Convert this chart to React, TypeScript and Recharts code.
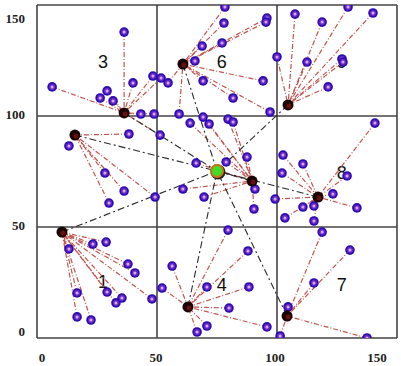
import { ScatterChart, Scatter, XAxis, YAxis, CartesianGrid } from "recharts";

type P = [number, number];

// base station (green) and the nine cluster heads, clusters 1..9
const baseStation: P = [75, 75.2];
const heads: P[] = [
  [10.4, 47.7], // 1
  [15.8, 91.4], // 2
  [36.3, 101.4], // 3
  [62.9, 14.0], // 4
  [89.6, 70.7], // 5
  [60.8, 123.4], // 6
  [104.2, 9.9], // 7
  [117.1, 63.5], // 8
  [104.6, 105.0], // 9
];

const cluster1: P[] = [
  [23.3, 42.3], [28.8, 43.2], [13.3, 40.1], [37.9, 33.3], [40.8, 29.3], [29.2, 20.7],
  [32.9, 15.8], [35.4, 18.0], [16.7, 20.3], [16.7, 9.5], [22.5, 8.1], [47.9, 17.6],
];
const cluster2: P[] = [
  [13.3, 86.5], [38.3, 91.9], [28.3, 74.3], [36.3, 66.2], [30.0, 60.8], [49.2, 63.5],
];
const cluster3: P[] = [
  [36.3, 137.8], [6.3, 113.1], [40.0, 114.9], [29.2, 111.3], [26.3, 108.1], [31.7, 106.8],
  [43.3, 100.9], [48.8, 100.9], [48.3, 118.0], [51.7, 117.1], [51.3, 91.4],
];
const cluster4: P[] = [
  [52.1, 22.5], [56.3, 32.4], [66.7, 2.7], [79.6, 48.6], [87.9, 39.2], [70.8, 23.0],
  [88.3, 23.0], [80.0, 13.5], [70.8, 5.4], [95.8, 5.0],
];
const cluster5: P[] = [
  [69.2, 99.5], [71.7, 96.4], [79.6, 98.6], [81.7, 97.3], [63.8, 96.8], [87.5, 81.5],
  [78.8, 79.3], [66.3, 78.8], [60.8, 67.1], [69.6, 63.5], [90.8, 67.1], [90.4, 58.1],
];
const cluster6: P[] = [
  [54.6, 114.9], [65.8, 124.8], [78.3, 149.1], [77.9, 141.9], [95.8, 144.1], [95.4, 142.3],
  [68.8, 131.5], [77.1, 132.9], [69.2, 115.8], [94.2, 115.8], [81.7, 108.1], [97.1, 101.8],
  [59.2, 100.9],
];
const cluster7: P[] = [
  [118.8, 47.7], [130.4, 39.6], [115.4, 24.8], [104.6, 14.0], [101.3, 0.9], [137.5, 0.0],
];
const cluster8: P[] = [
  [102.5, 82.4], [110.8, 78.4], [102.1, 74.3], [129.2, 73.0], [140.8, 96.8], [123.3, 64.9],
  [110.8, 59.0], [115.4, 59.5], [133.3, 58.6], [99.2, 62.6], [103.3, 54.1], [115.4, 52.7],
];
const cluster9: P[] = [
  [107.5, 145.9], [118.8, 142.3], [129.6, 149.1], [140.0, 146.4], [100.0, 126.6],
  [112.5, 124.3], [127.1, 125.7], [127.5, 124.3], [121.3, 113.1],
];

const clusters = [cluster1, cluster2, cluster3, cluster4, cluster5, cluster6, cluster7, cluster8, cluster9];

const cellNames = ["1", "3", "4", "6", "7", "8", "9"];
const cellSpots: P[] = [
  [27.5, 25.2], [27.5, 124.3], [77, 23.9], [77, 124.3], [127, 23.9], [127, 74.3], [127, 124.3],
];

const axisTicks = [0, 50, 100, 150];

const pt = (p: P) => ({ x: p[0], y: p[1] });

const memberLinks = clusters.flatMap((c, i) => c.map((p) => [pt(p), pt(heads[i])]));
const headLinks = heads.map((h) => [pt(h), pt(baseStation)]);

const noShape = () => <g />;

const Node = (props: any) => (
  <g>
    <circle cx={props.cx} cy={props.cy} r={4.8} fill="#2c0db5" />
    <circle cx={props.cx} cy={props.cy} r={3} fill="#6c2cc6" />
    <circle cx={props.cx} cy={props.cy} r={1.5} fill="#d6a6f0" />
  </g>
);

const Head = (props: any) => (
  <g>
    <circle cx={props.cx} cy={props.cy} r={5.5} fill="#1a0303" />
    <circle cx={props.cx + 1} cy={props.cy + 1} r={2.5} fill="#661010" />
  </g>
);

const Station = (props: any) => (
  <g>
    <circle cx={props.cx + 1} cy={props.cy + 1} r={7.5} fill="#222" />
    <circle cx={props.cx} cy={props.cy} r={7} fill="#c8741a" />
    <circle cx={props.cx} cy={props.cy} r={5} fill="#3fdc28" />
  </g>
);

const CellLabel = (props: any) => (
  <text
    x={props.cx}
    y={props.cy}
    textAnchor="middle"
    dominantBaseline="central"
    fontFamily="Liberation Sans, Arial, sans-serif"
    fontSize={18}
    fill="#111"
  >
    {props.payload.name}
  </text>
);

const xShift: Record<number, number> = { 0: 5, 50: -1, 100: -2, 150: -12 };
const yShift: Record<number, number> = { 0: -7, 50: -2, 100: -2, 150: 9 };

const XTick = (props: any) => (
  <text
    x={props.x + (xShift[props.payload.value] ?? 0)}
    y={props.y + 22}
    textAnchor="middle"
    fontFamily="Liberation Serif, Times New Roman, serif"
    fontWeight="bold"
    fontSize={13}
    fill="#222"
  >
    {props.payload.value}
  </text>
);

const YTick = (props: any) => (
  <text
    x={25}
    y={props.y + (yShift[props.payload.value] ?? 0)}
    dy="0.35em"
    textAnchor="end"
    fontFamily="Liberation Serif, Times New Roman, serif"
    fontWeight="bold"
    fontSize={13}
    fill="#222"
  >
    {props.payload.value}
  </text>
);

const App = () => {
  const cellData = cellSpots.map((p, i) => ({ x: p[0], y: p[1], name: cellNames[i] }));
  const nodeData = clusters.flat().map(pt);

  return (
    <div style={{ position: "absolute", left: 0, top: 0, background: "#fff" }}>
      <ScatterChart width={401} height={366} margin={{ top: 5, right: 4, bottom: 0, left: 0 }}>
        <CartesianGrid stroke="#454545" strokeWidth={1.6} />
        <XAxis
          type="number"
          dataKey="x"
          domain={[0, 150]}
          ticks={axisTicks}
          height={28}
          axisLine={false}
          tickLine={false}
          tickSize={0}
          tick={<XTick />}
          allowDataOverflow
        />
        <YAxis
          type="number"
          dataKey="y"
          domain={[0, 150]}
          ticks={axisTicks}
          width={37}
          axisLine={false}
          tickLine={false}
          tickSize={0}
          tick={<YTick />}
          allowDataOverflow
        />
        <Scatter data={cellData} shape={<CellLabel />} isAnimationActive={false} />
        {memberLinks.map((seg, i) => (
          <Scatter
            key={"m" + i}
            data={seg}
            shape={noShape}
            stroke="#c25550"
            line={{ stroke: "#c25550", strokeWidth: 1.2, strokeDasharray: "5 2 1 2" }}
            isAnimationActive={false}
          />
        ))}
        {headLinks.map((seg, i) => (
          <Scatter
            key={"h" + i}
            data={seg}
            shape={noShape}
            stroke="#2a2a2a"
            line={{ stroke: "#2a2a2a", strokeWidth: 1.1, strokeDasharray: "7 3 2 3" }}
            isAnimationActive={false}
          />
        ))}
        <Scatter data={nodeData} shape={<Node />} isAnimationActive={false} />
        <Scatter data={heads.map(pt)} shape={<Head />} isAnimationActive={false} />
        <Scatter data={[pt(baseStation)]} shape={<Station />} isAnimationActive={false} />
      </ScatterChart>
    </div>
  );
};

export default App;
